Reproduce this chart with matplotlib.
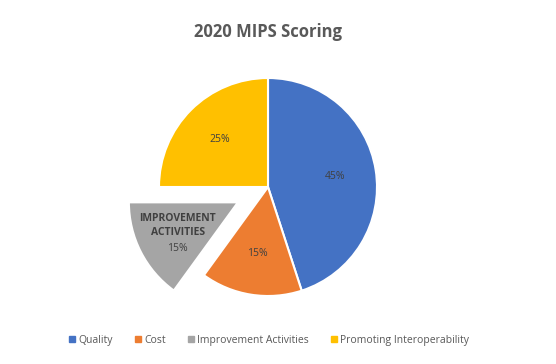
import matplotlib.pyplot as plt
from matplotlib.lines import Line2D

# slice data, clockwise from 12 o'clock
categories = ["Quality", "Cost", "Improvement Activities", "Promoting Interoperability"]
shares = [45, 15, 15, 25]
colors = ["#4472C4", "#ED7D31", "#A5A5A5", "#FFC000"]
explode = [0, 0, 0.31, 0]

plt.rcParams['font.family'] = ['Open Sans', 'DejaVu Sans']

R = 109  # pie radius in pixel-like data units
fig = plt.figure(figsize=(5.56, 3.64), dpi=100)
ax = fig.add_axes([0, 0, 1, 1])

wedges, texts, autotexts = ax.pie(
    shares, colors=colors, explode=[e * R for e in explode], startangle=90,
    counterclock=False, center=(268, 177), radius=R, autopct='%d%%', pctdistance=0.62,
    wedgeprops=dict(edgecolor='white', linewidth=1.5),
    textprops=dict(color='#404040', fontsize=7.5), frame=True)
ax.set_xlim(0, 556)
ax.set_ylim(0, 364)
ax.set_aspect('equal')
ax.axis('off')

# bold category label on the exploded slice
gx, gy = autotexts[2].get_position()
ax.text(gx, gy - 5, "IMPROVEMENT\nACTIVITIES", ha='center', va='bottom',
        fontsize=7.5, fontweight='bold', color='#404040', linespacing=1.4)
autotexts[2].set_position((gx, gy - 15))

fig.text(0.482, 0.912, "2020 MIPS Scoring", ha='center', va='center',
         fontsize=12, fontweight='bold', color='#595959')

handles = [Line2D([], [], marker='s', linestyle='', color=c, markersize=5) for c in colors]
fig.legend(handles, categories, loc='center', bbox_to_anchor=(0.482, 0.065), ncol=4,
           frameon=False, fontsize=7.5, labelcolor='#595959', handletextpad=0.1,
           columnspacing=1.9, handlelength=1)

fig.savefig("out.png", dpi=100)
